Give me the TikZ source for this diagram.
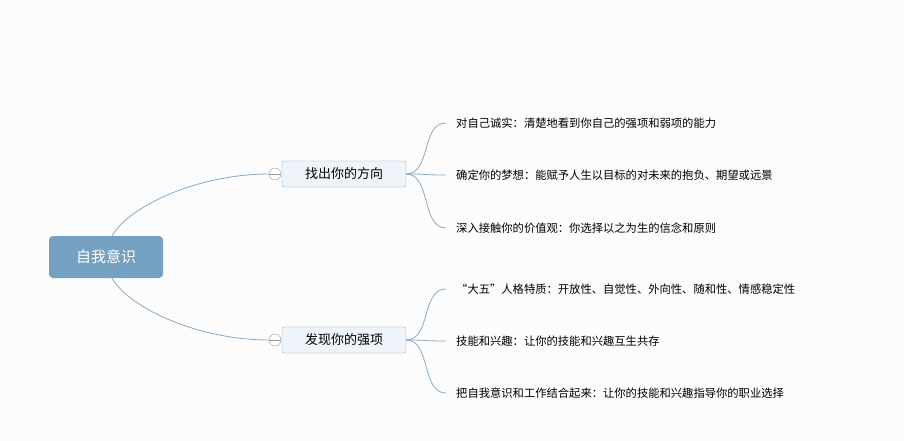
\documentclass[tikz,border=0pt]{standalone}
\usepackage{fontspec}
\newfontfamily\cjk{Noto Sans CJK SC}
\usetikzlibrary{positioning}
\definecolor{rootblue}{RGB}{116,161,193}
\definecolor{linkblue}{RGB}{134,171,200}
\definecolor{subfill}{RGB}{238,244,249}
\tikzset{rootnode/.style={rectangle, rounded corners=4pt, fill=rootblue, text=white, minimum width=114pt, minimum height=42pt, font=\cjk\fontsize{15}{17}\selectfont},
  subnode/.style={rectangle, rounded corners=2pt, draw=linkblue, fill=subfill, minimum width=124pt, minimum height=26pt, font=\cjk\fontsize{13}{15}\selectfont},
  leafnode/.style={anchor=west, inner xsep=10pt, font=\cjk\fontsize{11.3}{13}\selectfont},
  foldnode/.style={circle, draw=gray!80, fill=white, minimum size=12pt, inner sep=0pt},
  link/.style={draw=linkblue, line width=0.8pt}}
\begin{document}
\begin{tikzpicture}[x=1pt,y=-1pt]
\fill[white!98!gray] (0,0) rectangle (904,441);
\node [rootnode] at (106,257) (root) {自我意识};
\node [subnode] at (344,174) (dir) {找出你的方向};
\node [subnode] at (344,340) (str) {发现你的强项};
\node [foldnode] at (275,174) (fold1) {};
\node [foldnode] at (275,340) (fold2) {};
\draw [gray!80] (fold1.west) -- (fold1.east) (fold2.west) -- (fold2.east);
\node [leafnode] at (446,123) (l1) {对自己诚实：清楚地看到你自己的强项和弱项的能力};
\node [leafnode] at (446,175) (l2) {确定你的梦想：能赋予人生以目标的对未来的抱负、期望或远景};
\node [leafnode] at (446,228) (l3) {深入接触你的价值观：你选择以之为生的信念和原则};
\node [leafnode] at (446,289) (l4) {“大五”人格特质：开放性、自觉性、外向性、随和性、情感稳定性};
\node [leafnode] at (446,341) (l5) {技能和兴趣：让你的技能和兴趣互生共存};
\node [leafnode] at (446,393) (l6) {把自我意识和工作结合起来：让你的技能和兴趣指导你的职业选择};
% root to branches
\draw [link] ([xshift=6pt]root.north) .. controls (130,205) and (200,174) .. (fold1.west);
\draw [link] ([xshift=6pt]root.south) .. controls (130,309) and (200,340) .. (fold2.west);
% branches to leaves
\foreach \s/\l in {dir/l1, dir/l2, dir/l3, str/l4, str/l5, str/l6}
  \draw [link] (\s.east) .. controls ([xshift=25pt]\s.east) and ([xshift=-25pt]\l.west) .. (\l.west);
\end{tikzpicture}
\end{document}
